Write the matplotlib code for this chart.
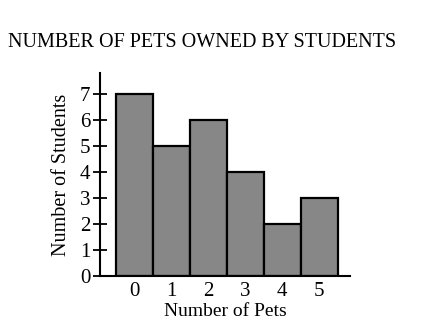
import matplotlib
matplotlib.use("Agg")
import matplotlib.pyplot as plt

pets = [0, 1, 2, 3, 4, 5]
students = [7, 5, 6, 4, 2, 3]
yticks = [0, 1, 2, 3, 4, 5, 6, 7]

plt.rcParams['font.family'] = ['Liberation Serif', 'DejaVu Serif']

fig = plt.figure(figsize=(4.36, 3.22), dpi=100)
ax = fig.add_axes([100/436, 1-276/322, 250/436, 203/322])
ax.bar(pets, students, width=1.0, color='#878787', edgecolor='black', linewidth=1.6, zorder=2)
ax.set_xlim(-0.93, 5.83)
ax.set_ylim(0, 7.8)
ax.set_yticks(yticks)
ax.set_xticks(pets)
for s in ['top', 'right']:
    ax.spines[s].set_visible(False)
for s in ['left', 'bottom']:
    ax.spines[s].set_linewidth(1.5)
ax.tick_params(axis='y', direction='inout', length=10, width=1.3, labelsize=15, pad=2)
ax.tick_params(axis='x', length=0, labelsize=15, pad=4)
ax.set_xlabel('Number of Pets', fontsize=14, labelpad=2)
ax.set_ylabel('Number of Students', fontsize=14.5, labelpad=6)
fig.text(8/436, 1-47/322, 'NUMBER OF PETS OWNED BY STUDENTS', fontsize=14.5, va='baseline', ha='left')
fig.savefig('out.png', dpi=100)
